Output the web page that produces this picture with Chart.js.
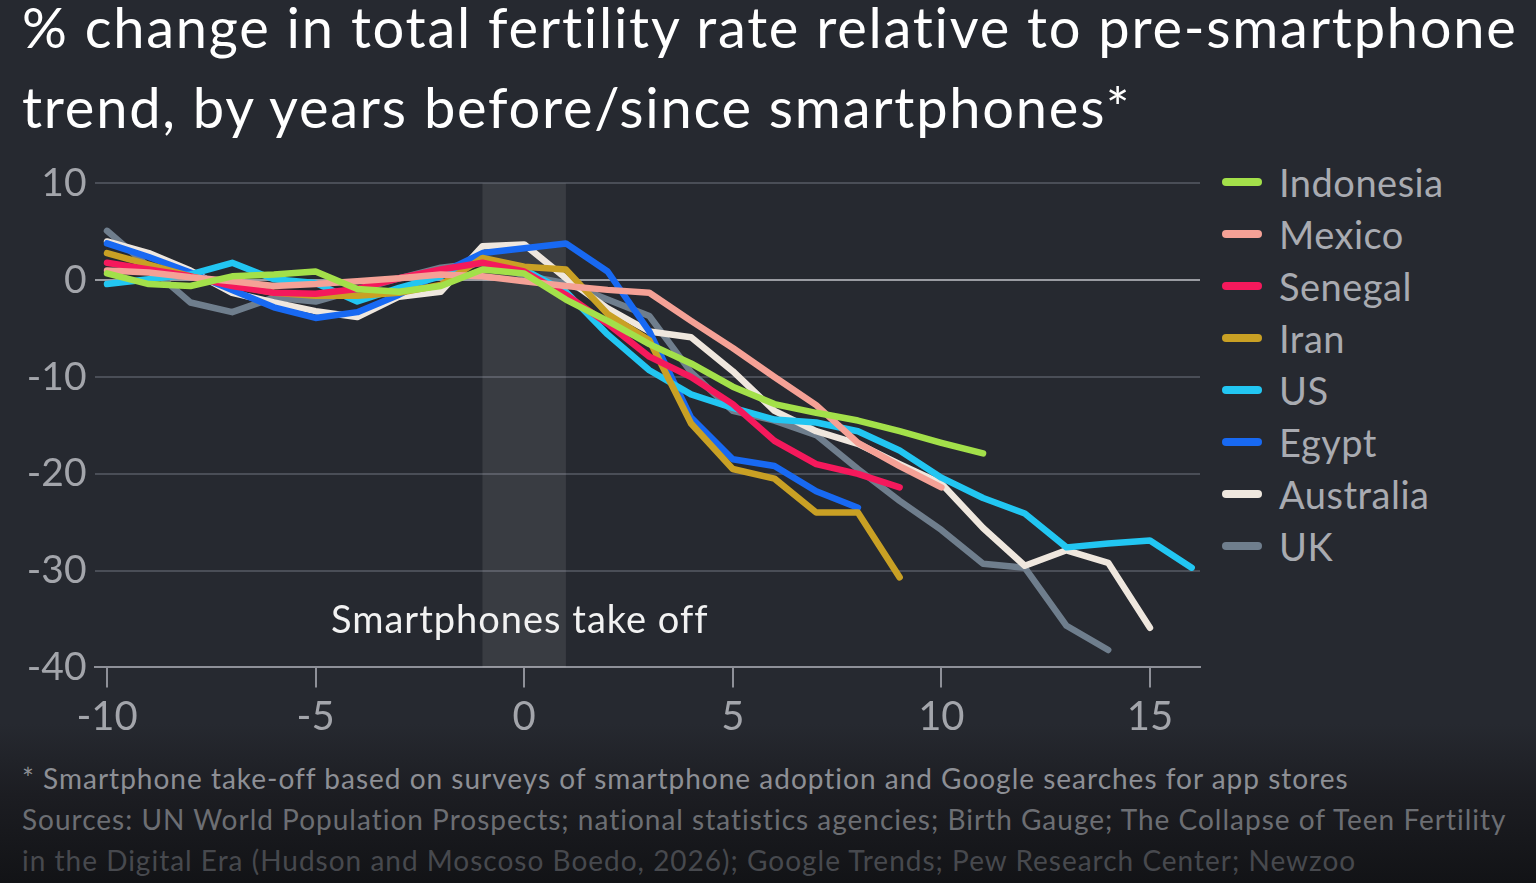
<!DOCTYPE html>
<html>
<head>
<meta charset="utf-8">
<script src="https://cdn.jsdelivr.net/npm/chart.js@4.4.1/dist/chart.umd.min.js"></script>
<style>
  html, body { margin: 0; padding: 0; }
  body {
    width: 1536px; height: 883px; overflow: hidden; position: relative;
    background: linear-gradient(to bottom, #262930 0%, #262930 82%, #1c1d22 90%, #121316 100%);
    font-family: Lato, "Open Sans", sans-serif;
  }
  #title {
    position: absolute; left: 22px; top: -13px;
    color: #ffffff; font-size: 56px; line-height: 80px; letter-spacing: 1.75px;
  }
  #wrap { position: absolute; left: 0; top: 160px; width: 1215px; height: 600px; }
  #legend { position: absolute; left: 1222px; top: 156px; }
  .row { height: 52px; display: flex; align-items: center; }
  .sw { width: 40px; height: 8px; border-radius: 4px; margin-right: 17px; }
  .lab { color: #a9abb1; font-size: 38px; letter-spacing: 0.5px; }
  #note {
    position: absolute; left: 331px; top: 595px;
    color: #f2f2f2; font-size: 38px; letter-spacing: 1px;
  }
  #foot {
    position: absolute; left: 22px; top: 758px;
    font-size: 28px; line-height: 41px; letter-spacing: 1px;
  }
</style>
</head>
<body>
<div id="title">% change in total fertility rate relative to pre-smartphone<br>trend, by years before/since smartphones*</div>
<div id="wrap"><canvas id="chart"></canvas></div>
<div id="legend"></div>
<div id="note">Smartphones take off</div>
<div id="foot">
  <div style="color:#8d8f95">* Smartphone take-off based on surveys of smartphone adoption and Google searches for app stores</div>
  <div style="color:#6c6e73">Sources: UN World Population Prospects; national statistics agencies; Birth Gauge; The Collapse of Teen Fertility</div>
  <div style="color:#47494e">in the Digital Era (Hudson and Moscoso Boedo, 2026); Google Trends; Pew Research Center; Newzoo</div>
</div>
<script>
// years before/since smartphone take-off
const years = [-10, -9, -8, -7, -6, -5, -4, -3, -2, -1, 0, 1, 2, 3, 4, 5, 6, 7, 8, 9, 10, 11, 12, 13, 14, 15, 16];

const indonesia = [0.7, -0.4, -0.6, 0.4, 0.6, 0.9, -0.9, -1.2, -0.6, 1.1, 0.7, -2.0, -4.2, -6.6, -8.6, -11.0, -12.8, -13.7, -14.5, -15.6, -16.8, -17.9];
const mexico    = [1.0, 0.8, 0.3, -0.1, -0.6, -0.4, -0.1, 0.2, 0.6, 0.4, -0.1, -0.6, -1.0, -1.3, -4.2, -7.0, -10.0, -12.9, -16.8, -19.2, -21.4];
const senegal   = [1.8, 1.1, 0.4, -0.6, -1.3, -1.4, -0.9, 0.2, 1.1, 1.8, 0.9, -1.5, -4.5, -7.9, -10.0, -12.8, -16.6, -19.0, -20.0, -21.4];
const iran      = [2.8, 1.6, 0.4, -0.5, -1.3, -1.6, -1.6, -1.3, -0.5, 2.3, 1.4, 1.1, -3.5, -6.2, -14.8, -19.5, -20.5, -24.0, -24.0, -30.7];
const us        = [-0.4, 0.1, 0.6, 1.8, 0.1, -0.3, -2.2, -0.8, 0.4, 2.0, 1.1, -1.2, -5.6, -9.3, -11.8, -13.2, -14.4, -14.7, -15.6, -17.6, -20.4, -22.5, -24.1, -27.6, -27.2, -26.9, -29.7];
const egypt     = [3.8, 2.4, 0.8, -1.0, -2.8, -3.9, -3.3, -1.5, 0.7, 2.8, 3.3, 3.8, 0.9, -5.3, -14.2, -18.5, -19.2, -21.8, -23.5];
const australia = [4.0, 2.8, 1.0, -1.3, -2.3, -3.2, -3.8, -1.7, -1.2, 3.5, 3.7, 0.2, -2.9, -5.3, -5.9, -9.4, -13.5, -15.6, -16.9, -19.0, -21.0, -25.6, -29.5, -27.9, -29.2, -35.9];
const uk        = [5.1, 1.4, -2.3, -3.3, -1.8, -2.2, -1.0, 0.2, 1.3, 1.8, 0.5, -0.3, -2.0, -3.7, -9.5, -13.5, -14.5, -16.0, -19.5, -22.8, -25.8, -29.3, -29.7, -35.7, -38.2];

const names  = ['Indonesia', 'Mexico', 'Senegal', 'Iran', 'US', 'Egypt', 'Australia', 'UK'];
const colors = ['#a3e04a', '#f5a196', '#f5195c', '#c9a024', '#22c6f2', '#1869f2', '#efe7de', '#6f7e8d'];
const series = [indonesia, mexico, senegal, iran, us, egypt, australia, uk];

const xTicks = [-10, -5, 0, 5, 10, 15];
const yTicks = [-40, -30, -20, -10, 0, 10];
const bandStart = -1, bandEnd = 1;

// grey band where smartphones take off
const bandPlugin = {
  id: 'band',
  beforeDatasetsDraw(chart) {
    const { ctx, chartArea, scales } = chart;
    const x0 = scales.x.getPixelForValue(bandStart);
    const x1 = scales.x.getPixelForValue(bandEnd);
    ctx.save();
    ctx.fillStyle = 'rgba(255,255,255,0.09)';
    ctx.fillRect(x0, chartArea.top, x1 - x0, chartArea.bottom - chartArea.top);
    ctx.restore();
  }
};

const datasets = series.map((vals, i) => ({
  label: names[i],
  data: vals.map((v, j) => ({ x: years[j], y: v })),
  borderColor: colors[i],
  borderWidth: 6.5,
  borderCapStyle: 'round',
  borderJoinStyle: 'round',
  pointRadius: 0,
  tension: 0,
  fill: false
}));

const chart = new Chart(document.getElementById('chart'), {
  type: 'line',
  data: { datasets },
  plugins: [bandPlugin],
  options: {
    responsive: true,
    maintainAspectRatio: false,
    animation: false,
    layout: { padding: { top: 18, right: 15, left: 0, bottom: 0 } },
    plugins: { legend: { display: false }, tooltip: { enabled: false } },
    scales: {
      x: {
        type: 'linear', min: -10.3, max: 16.2,
        afterBuildTicks: s => { s.ticks = xTicks.map(v => ({ value: v })); },
        afterFit: s => { s.height = 91; },
        grid: { drawOnChartArea: false, drawTicks: true, tickLength: 20, color: '#8e9098', lineWidth: 2 },
        border: { display: true, color: '#8e9098', width: 2 },
        ticks: { color: '#a3a5ab', font: { family: 'Lato', size: 40 }, padding: 6, maxRotation: 0 }
      },
      y: {
        type: 'linear', min: -40, max: 10,
        afterBuildTicks: s => { s.ticks = yTicks.map(v => ({ value: v })); },
        afterFit: s => { s.width = 94.5; },
        grid: {
          drawTicks: false,
          lineWidth: 2,
          color: c => c.tick.value === 0 ? '#9a9ca2' : (c.tick.value === -40 ? 'rgba(0,0,0,0)' : '#4a4e57')
        },
        border: { display: false },
        ticks: { color: '#a3a5ab', font: { family: 'Lato', size: 39 }, padding: 8 }
      }
    }
  }
});

// shift the canvas so the plot area sits at y 183..667 like the original
const wrap = document.getElementById('wrap');
const area = chart.chartArea;
const newTop = 160 + (183 - (160 + area.top));
const newHeight = 600 + (667 - (newTop + area.bottom));
wrap.style.top = newTop + 'px';
wrap.style.height = newHeight + 'px';
chart.resize();

// legend
const legend = document.getElementById('legend');
names.forEach((n, i) => {
  const row = document.createElement('div');
  row.className = 'row';
  row.innerHTML = '<div class="sw" style="background:' + colors[i] + '"></div><div class="lab">' + n + '</div>';
  legend.appendChild(row);
});
</script>
</body>
</html>
